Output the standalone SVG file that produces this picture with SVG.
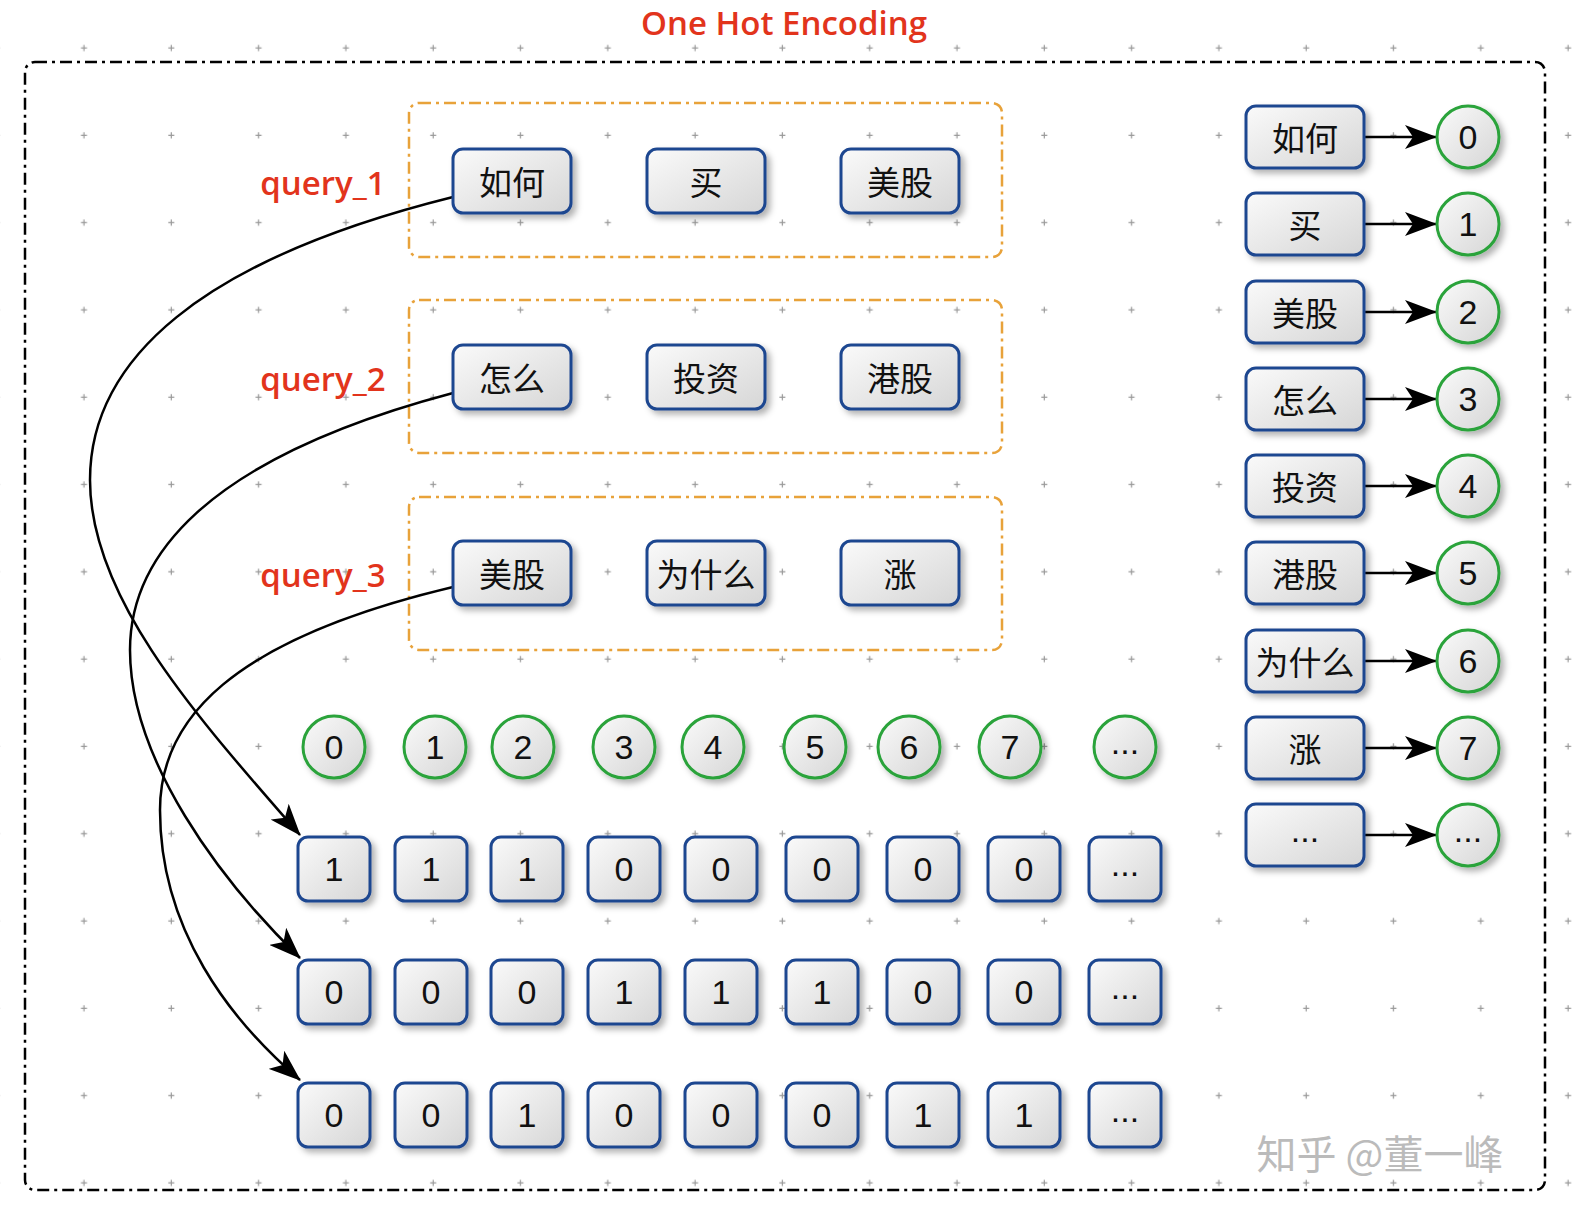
<svg xmlns="http://www.w3.org/2000/svg" width="1572" height="1220" viewBox="0 0 1572 1220">
<style>
.t{font-family:"Noto Sans CJK SC","Liberation Sans",sans-serif;font-size:33px;fill:#111;text-anchor:middle;dominant-baseline:central}
.n{font-family:"Liberation Sans",sans-serif;font-size:34px;fill:#111;text-anchor:middle;dominant-baseline:central}
.q{font-family:"Open Sans","Liberation Sans",sans-serif;font-size:33px;font-weight:600;fill:#e2341c;text-anchor:middle;dominant-baseline:central}
.b{fill:url(#g);stroke:#1f4690;stroke-width:3;filter:url(#s)}
.c{fill:url(#g);stroke:#2aa33a;stroke-width:3;filter:url(#s)}
.qb{fill:none;stroke:#e8a23a;stroke-width:2.5;stroke-dasharray:12 5 3 5}
.e{fill:none;stroke:#000;stroke-width:2.5;marker-end:url(#a2)}
</style>
<defs>
<linearGradient id="g" x1="0" y1="0" x2="1" y2="1"><stop offset="0" stop-color="#fafafa"/><stop offset="1" stop-color="#d6d6d6"/></linearGradient>
<filter id="s" x="-20%" y="-20%" width="150%" height="150%"><feDropShadow dx="4" dy="4" stdDeviation="3" flood-color="#000" flood-opacity="0.3"/></filter>
<pattern id="dots" x="40" y="4" width="87.3" height="87.3" patternUnits="userSpaceOnUse"><path d="M41,44h6M44,41v6" stroke="#999" stroke-width="1.2"/></pattern>
<marker id="a2" markerWidth="32" markerHeight="24" refX="31" refY="12" orient="auto" markerUnits="userSpaceOnUse" viewBox="0 0 32 24"><path d="M0,0L32,12L0,24L8,12z" fill="#000"/></marker>
</defs>
<rect width="1572" height="1220" fill="#fff"/>
<rect width="1572" height="1220" fill="url(#dots)"/>
<rect x="25" y="62" width="1520" height="1128" rx="10" fill="none" stroke="#000" stroke-width="2.5" stroke-dasharray="12 5 3 5"/>
<text class="q" x="784" y="22">One Hot Encoding</text>
<text x="1380" y="1152" font-family="Noto Sans CJK SC,sans-serif" font-size="40" fill="#bbb" text-anchor="middle" dominant-baseline="central">知乎 @董一峰</text>

<g id="query1"><rect class="qb" x="409" y="103" width="593" height="154" rx="10"/><text class="q" x="323" y="182">query_1</text></g>
<g id="query2"><rect class="qb" x="409" y="300" width="593" height="153" rx="10"/><text class="q" x="323" y="378">query_2</text></g>
<g id="query3"><rect class="qb" x="409" y="497" width="593" height="153" rx="10"/><text class="q" x="323" y="574">query_3</text></g>

<g id="connectors">
<path class="e" d="M453,197 C200,260 90,360 90,480 C90,600 200,720 300,835"/>
<path class="e" d="M453,393 C200,460 130,560 130,650 C130,760 220,880 300,958"/>
<path class="e" d="M453,587 C230,640 160,720 160,810 C160,930 230,1020 300,1080"/>
<path class="e" d="M1364,137H1436"/>
<path class="e" d="M1364,224H1436"/>
<path class="e" d="M1364,312H1436"/>
<path class="e" d="M1364,399H1436"/>
<path class="e" d="M1364,486H1436"/>
<path class="e" d="M1364,573H1436"/>
<path class="e" d="M1364,661H1436"/>
<path class="e" d="M1364,748H1436"/>
<path class="e" d="M1364,835H1436"/>
</g>

<g id="q1a"><rect class="b" x="453" y="149" width="118" height="64" rx="10"/><text class="t" x="512" y="181">如何</text></g>
<g id="q1b"><rect class="b" x="647" y="149" width="118" height="64" rx="10"/><text class="t" x="706" y="181">买</text></g>
<g id="q1c"><rect class="b" x="841" y="149" width="118" height="64" rx="10"/><text class="t" x="900" y="181">美股</text></g>
<g id="q2a"><rect class="b" x="453" y="345" width="118" height="64" rx="10"/><text class="t" x="512" y="377">怎么</text></g>
<g id="q2b"><rect class="b" x="647" y="345" width="118" height="64" rx="10"/><text class="t" x="706" y="377">投资</text></g>
<g id="q2c"><rect class="b" x="841" y="345" width="118" height="64" rx="10"/><text class="t" x="900" y="377">港股</text></g>
<g id="q3a"><rect class="b" x="453" y="541" width="118" height="64" rx="10"/><text class="t" x="512" y="573">美股</text></g>
<g id="q3b"><rect class="b" x="647" y="541" width="118" height="64" rx="10"/><text class="t" x="706" y="573">为什么</text></g>
<g id="q3c"><rect class="b" x="841" y="541" width="118" height="64" rx="10"/><text class="t" x="900" y="573">涨</text></g>

<g id="idx">
<circle class="c" cx="334" cy="747" r="31"/><text class="n" x="334" y="747">0</text>
<circle class="c" cx="435" cy="747" r="31"/><text class="n" x="435" y="747">1</text>
<circle class="c" cx="523" cy="747" r="31"/><text class="n" x="523" y="747">2</text>
<circle class="c" cx="624" cy="747" r="31"/><text class="n" x="624" y="747">3</text>
<circle class="c" cx="713" cy="747" r="31"/><text class="n" x="713" y="747">4</text>
<circle class="c" cx="815" cy="747" r="31"/><text class="n" x="815" y="747">5</text>
<circle class="c" cx="909" cy="747" r="31"/><text class="n" x="909" y="747">6</text>
<circle class="c" cx="1010" cy="747" r="31"/><text class="n" x="1010" y="747">7</text>
<circle class="c" cx="1125" cy="747" r="31"/><text class="n" x="1125" y="742">...</text>
</g>

<g id="row1">
<rect class="b" x="298" y="837" width="72" height="64" rx="10"/><text class="n" x="334" y="869">1</text>
<rect class="b" x="395" y="837" width="72" height="64" rx="10"/><text class="n" x="431" y="869">1</text>
<rect class="b" x="491" y="837" width="72" height="64" rx="10"/><text class="n" x="527" y="869">1</text>
<rect class="b" x="588" y="837" width="72" height="64" rx="10"/><text class="n" x="624" y="869">0</text>
<rect class="b" x="685" y="837" width="72" height="64" rx="10"/><text class="n" x="721" y="869">0</text>
<rect class="b" x="786" y="837" width="72" height="64" rx="10"/><text class="n" x="822" y="869">0</text>
<rect class="b" x="887" y="837" width="72" height="64" rx="10"/><text class="n" x="923" y="869">0</text>
<rect class="b" x="988" y="837" width="72" height="64" rx="10"/><text class="n" x="1024" y="869">0</text>
<rect class="b" x="1089" y="837" width="72" height="64" rx="10"/><text class="n" x="1125" y="864">...</text>
</g>
<g id="row2">
<rect class="b" x="298" y="960" width="72" height="64" rx="10"/><text class="n" x="334" y="992">0</text>
<rect class="b" x="395" y="960" width="72" height="64" rx="10"/><text class="n" x="431" y="992">0</text>
<rect class="b" x="491" y="960" width="72" height="64" rx="10"/><text class="n" x="527" y="992">0</text>
<rect class="b" x="588" y="960" width="72" height="64" rx="10"/><text class="n" x="624" y="992">1</text>
<rect class="b" x="685" y="960" width="72" height="64" rx="10"/><text class="n" x="721" y="992">1</text>
<rect class="b" x="786" y="960" width="72" height="64" rx="10"/><text class="n" x="822" y="992">1</text>
<rect class="b" x="887" y="960" width="72" height="64" rx="10"/><text class="n" x="923" y="992">0</text>
<rect class="b" x="988" y="960" width="72" height="64" rx="10"/><text class="n" x="1024" y="992">0</text>
<rect class="b" x="1089" y="960" width="72" height="64" rx="10"/><text class="n" x="1125" y="987">...</text>
</g>
<g id="row3">
<rect class="b" x="298" y="1083" width="72" height="64" rx="10"/><text class="n" x="334" y="1115">0</text>
<rect class="b" x="395" y="1083" width="72" height="64" rx="10"/><text class="n" x="431" y="1115">0</text>
<rect class="b" x="491" y="1083" width="72" height="64" rx="10"/><text class="n" x="527" y="1115">1</text>
<rect class="b" x="588" y="1083" width="72" height="64" rx="10"/><text class="n" x="624" y="1115">0</text>
<rect class="b" x="685" y="1083" width="72" height="64" rx="10"/><text class="n" x="721" y="1115">0</text>
<rect class="b" x="786" y="1083" width="72" height="64" rx="10"/><text class="n" x="822" y="1115">0</text>
<rect class="b" x="887" y="1083" width="72" height="64" rx="10"/><text class="n" x="923" y="1115">1</text>
<rect class="b" x="988" y="1083" width="72" height="64" rx="10"/><text class="n" x="1024" y="1115">1</text>
<rect class="b" x="1089" y="1083" width="72" height="64" rx="10"/><text class="n" x="1125" y="1110">...</text>
</g>

<g id="vocab">
<rect class="b" x="1246" y="106" width="118" height="62" rx="10"/><text class="t" x="1305" y="137">如何</text><circle class="c" cx="1468" cy="137" r="31"/><text class="n" x="1468" y="137">0</text>
<rect class="b" x="1246" y="193" width="118" height="62" rx="10"/><text class="t" x="1305" y="224">买</text><circle class="c" cx="1468" cy="224" r="31"/><text class="n" x="1468" y="224">1</text>
<rect class="b" x="1246" y="281" width="118" height="62" rx="10"/><text class="t" x="1305" y="312">美股</text><circle class="c" cx="1468" cy="312" r="31"/><text class="n" x="1468" y="312">2</text>
<rect class="b" x="1246" y="368" width="118" height="62" rx="10"/><text class="t" x="1305" y="399">怎么</text><circle class="c" cx="1468" cy="399" r="31"/><text class="n" x="1468" y="399">3</text>
<rect class="b" x="1246" y="455" width="118" height="62" rx="10"/><text class="t" x="1305" y="486">投资</text><circle class="c" cx="1468" cy="486" r="31"/><text class="n" x="1468" y="486">4</text>
<rect class="b" x="1246" y="542" width="118" height="62" rx="10"/><text class="t" x="1305" y="573">港股</text><circle class="c" cx="1468" cy="573" r="31"/><text class="n" x="1468" y="573">5</text>
<rect class="b" x="1246" y="630" width="118" height="62" rx="10"/><text class="t" x="1305" y="661">为什么</text><circle class="c" cx="1468" cy="661" r="31"/><text class="n" x="1468" y="661">6</text>
<rect class="b" x="1246" y="717" width="118" height="62" rx="10"/><text class="t" x="1305" y="748">涨</text><circle class="c" cx="1468" cy="748" r="31"/><text class="n" x="1468" y="748">7</text>
<rect class="b" x="1246" y="804" width="118" height="62" rx="10"/><text class="n" x="1305" y="830">...</text><circle class="c" cx="1468" cy="835" r="31"/><text class="n" x="1468" y="830">...</text>
</g>
</svg>
